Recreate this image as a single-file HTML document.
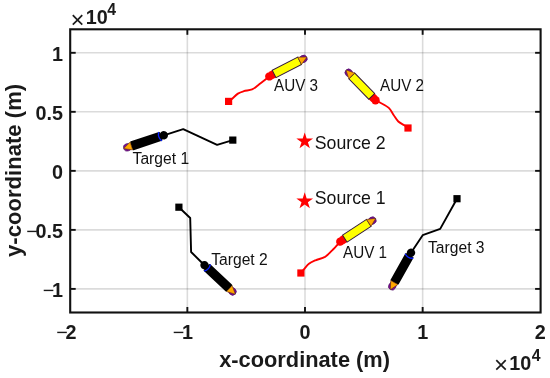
<!DOCTYPE html>
<html lang="en"><head><meta charset="utf-8"><title>AUV and target trajectories</title>
<style>
html,body{margin:0;padding:0;background:#fff;}
body{width:550px;height:378px;overflow:hidden;}
svg{display:block;}
text{font-family:"Liberation Sans", Arial, Helvetica, sans-serif;fill:#1a1a1a;}
.tk{font-weight:bold;font-size:19.8px;}
.ax{font-weight:bold;font-size:21.8px;}
.lb{font-size:16.4px;fill:#111;}
.sr{font-size:18.3px;fill:#111;}
.mn{font-weight:normal;}
.mm{font-weight:normal;letter-spacing:-2.4px;}
</style></head><body>
<svg width="550" height="378" viewBox="0 0 550 378">
<rect width="550" height="378" fill="#ffffff"/>

<g stroke="#000" stroke-opacity="0.14" stroke-width="1.6" fill="none">
<line x1="187.35" y1="29.3" x2="187.35" y2="312.5"/>
<line x1="305.00" y1="29.3" x2="305.00" y2="312.5"/>
<line x1="422.65" y1="29.3" x2="422.65" y2="312.5"/>
<line x1="70.2" y1="288.90" x2="540.6" y2="288.90"/>
<line x1="70.2" y1="229.88" x2="540.6" y2="229.88"/>
<line x1="70.2" y1="170.85" x2="540.6" y2="170.85"/>
<line x1="70.2" y1="111.82" x2="540.6" y2="111.82"/>
<line x1="70.2" y1="52.80" x2="540.6" y2="52.80"/>
</g>
<g fill="none" stroke="#000" stroke-width="1.9" stroke-linejoin="round" stroke-linecap="round">
<path d="M232.8,140.1 L217.1,144.9 L183.2,129.1 L163.8,135.3"/>
<path d="M178.9,207.2 L190.2,218.0 L191.1,252.0 L204.5,265.2"/>
<path d="M457.0,198.7 L440.2,228.9 L422.7,235.2 L411.0,252.7"/>
</g>
<rect x="229.20" y="136.50" width="7.2" height="7.2" fill="#000"/>
<rect x="175.30" y="203.60" width="7.2" height="7.2" fill="#000"/>
<rect x="453.40" y="195.10" width="7.2" height="7.2" fill="#000"/>
<g fill="none" stroke="#ff0000" stroke-width="1.9" stroke-linejoin="round" stroke-linecap="round">
<path d="M228.6,101.4 C229.2,101.0 230.3,100.2 231.9,98.9 C233.5,97.6 235.9,94.9 237.9,93.6 C239.9,92.3 241.4,91.9 243.8,91.2 C246.2,90.5 249.7,90.4 252.1,89.4 C254.5,88.4 255.2,87.4 258.1,85.2 C261.0,83.0 267.4,77.9 269.3,76.4"/>
<path d="M408.0,128.0 C407.4,127.5 405.9,126.4 404.3,125.3 C402.7,124.2 400.1,123.2 398.3,121.5 C396.5,119.8 395.2,117.3 393.6,115.0 C392.0,112.7 391.1,110.0 388.8,107.9 C386.5,105.8 382.1,103.8 379.9,102.5 C377.7,101.2 376.2,100.8 375.5,100.4"/>
<path d="M300.9,273.0 C301.5,272.3 303.2,270.1 304.5,268.6 C305.8,267.1 307.1,265.2 308.9,263.8 C310.7,262.4 312.8,261.5 315.5,260.3 C318.2,259.1 322.2,258.5 325.0,256.9 C327.8,255.2 329.6,252.9 332.2,250.4 C334.8,247.9 338.9,243.1 340.3,241.6"/>
</g>
<rect x="225.00" y="97.80" width="7.2" height="7.2" fill="#ff0000"/>
<rect x="404.40" y="124.40" width="7.2" height="7.2" fill="#ff0000"/>
<rect x="297.30" y="269.40" width="7.2" height="7.2" fill="#ff0000"/>
<g transform="translate(163.80,135.30) rotate(161.70)">
<ellipse cx="38.1" cy="0" rx="4.1" ry="3.7" fill="#7a1090" stroke="#4a0a60" stroke-width="0.6"/>
<rect x="2.6" y="-4.65" width="31.6" height="9.3" rx="1" fill="#000"/>
<path d="M3.7,-4.65 Q6.7,0 3.7,4.65" fill="none" stroke="#0a20ff" stroke-width="1.4"/>
<path d="M34.1,-4.1 L42.3,0 L34.1,4.1 Z" fill="#ffa800" stroke="#5a2a10" stroke-width="0.5"/>
<circle cx="0" cy="0" r="4.2" fill="#000000"/>
</g>
<g transform="translate(204.50,265.20) rotate(43.20)">
<ellipse cx="38.1" cy="0" rx="4.1" ry="3.7" fill="#7a1090" stroke="#4a0a60" stroke-width="0.6"/>
<rect x="2.6" y="-4.65" width="31.6" height="9.3" rx="1" fill="#000"/>
<path d="M3.7,-4.65 Q6.7,0 3.7,4.65" fill="none" stroke="#0a20ff" stroke-width="1.4"/>
<path d="M34.1,-4.1 L42.3,0 L34.1,4.1 Z" fill="#ffa800" stroke="#5a2a10" stroke-width="0.5"/>
<circle cx="0" cy="0" r="4.2" fill="#000000"/>
</g>
<g transform="translate(411.00,252.80) rotate(119.30)">
<ellipse cx="38.1" cy="0" rx="4.1" ry="3.7" fill="#7a1090" stroke="#4a0a60" stroke-width="0.6"/>
<rect x="2.6" y="-4.65" width="31.6" height="9.3" rx="1" fill="#000"/>
<path d="M3.7,-4.65 Q6.7,0 3.7,4.65" fill="none" stroke="#0a20ff" stroke-width="1.4"/>
<path d="M34.1,-4.1 L42.3,0 L34.1,4.1 Z" fill="#ffa800" stroke="#5a2a10" stroke-width="0.5"/>
<circle cx="0" cy="0" r="4.2" fill="#000000"/>
</g>
<g transform="translate(269.30,76.40) rotate(-27.20)">
<ellipse cx="38.1" cy="0" rx="4.1" ry="3.7" fill="#7a1090" stroke="#4a0a60" stroke-width="0.6"/>
<rect x="1.5" y="-4.1" width="5" height="8.2" fill="#ff0000"/>
<rect x="5.4" y="-4.1" width="28.7" height="8.2" fill="#ffff00" stroke="#32183a" stroke-width="0.95"/>
<path d="M34.1,-4.1 L42.3,0 L34.1,4.1 Z" fill="#ffa800" stroke="#5a2a10" stroke-width="0.5"/>
<circle cx="0" cy="0" r="4.2" fill="#ff0000"/>
</g>
<g transform="translate(375.50,100.30) rotate(-134.20)">
<ellipse cx="38.1" cy="0" rx="4.1" ry="3.7" fill="#7a1090" stroke="#4a0a60" stroke-width="0.6"/>
<rect x="1.5" y="-4.1" width="5" height="8.2" fill="#ff0000"/>
<rect x="5.4" y="-4.1" width="28.7" height="8.2" fill="#ffff00" stroke="#32183a" stroke-width="0.95"/>
<path d="M34.1,-4.1 L42.3,0 L34.1,4.1 Z" fill="#ffa800" stroke="#5a2a10" stroke-width="0.5"/>
<circle cx="0" cy="0" r="4.2" fill="#ff0000"/>
</g>
<g transform="translate(340.30,241.60) rotate(-33.30)">
<ellipse cx="38.1" cy="0" rx="4.1" ry="3.7" fill="#7a1090" stroke="#4a0a60" stroke-width="0.6"/>
<rect x="1.5" y="-4.1" width="5" height="8.2" fill="#ff0000"/>
<rect x="5.4" y="-4.1" width="28.7" height="8.2" fill="#ffff00" stroke="#32183a" stroke-width="0.95"/>
<path d="M34.1,-4.1 L42.3,0 L34.1,4.1 Z" fill="#ffa800" stroke="#5a2a10" stroke-width="0.5"/>
<circle cx="0" cy="0" r="4.2" fill="#ff0000"/>
</g>
<polygon points="304.70,132.40 306.68,138.48 313.07,138.48 307.90,142.24 309.87,148.32 304.70,144.56 299.53,148.32 301.50,142.24 296.33,138.48 302.72,138.48" fill="#ff0000"/>
<polygon points="304.70,192.30 306.68,198.38 313.07,198.38 307.90,202.14 309.87,208.22 304.70,204.46 299.53,208.22 301.50,202.14 296.33,198.38 302.72,198.38" fill="#ff0000"/>
<rect x="70.2" y="29.3" width="470.40" height="283.20" fill="none" stroke="#111" stroke-width="2.1"/>
<g stroke="#111" stroke-width="1.9">
<line x1="187.35" y1="312.5" x2="187.35" y2="307.0"/>
<line x1="187.35" y1="29.3" x2="187.35" y2="34.8"/>
<line x1="305.00" y1="312.5" x2="305.00" y2="307.0"/>
<line x1="305.00" y1="29.3" x2="305.00" y2="34.8"/>
<line x1="422.65" y1="312.5" x2="422.65" y2="307.0"/>
<line x1="422.65" y1="29.3" x2="422.65" y2="34.8"/>
<line x1="70.2" y1="288.90" x2="75.7" y2="288.90"/>
<line x1="540.6" y1="288.90" x2="535.1" y2="288.90"/>
<line x1="70.2" y1="229.88" x2="75.7" y2="229.88"/>
<line x1="540.6" y1="229.88" x2="535.1" y2="229.88"/>
<line x1="70.2" y1="170.85" x2="75.7" y2="170.85"/>
<line x1="540.6" y1="170.85" x2="535.1" y2="170.85"/>
<line x1="70.2" y1="111.82" x2="75.7" y2="111.82"/>
<line x1="540.6" y1="111.82" x2="535.1" y2="111.82"/>
<line x1="70.2" y1="52.80" x2="75.7" y2="52.80"/>
<line x1="540.6" y1="52.80" x2="535.1" y2="52.80"/>
</g>
<text class="tk" x="63" y="60.65" text-anchor="end">1</text>
<text class="tk" x="63" y="119.67" text-anchor="end">0.5</text>
<text class="tk" x="63" y="178.70" text-anchor="end">0</text>
<text class="tk" x="63" y="237.73" text-anchor="end"><tspan class="mm">−</tspan>0.5</text>
<text class="tk" x="63" y="296.75" text-anchor="end"><tspan class="mm">−</tspan>1</text>
<text class="tk" x="66.40" y="338.6" text-anchor="middle"><tspan class="mm">−</tspan>2</text>
<text class="tk" x="182.95" y="338.6" text-anchor="middle"><tspan class="mm">−</tspan>1</text>
<text class="tk" x="305.00" y="338.6" text-anchor="middle">0</text>
<text class="tk" x="422.65" y="338.6" text-anchor="middle">1</text>
<text class="tk" x="540.30" y="338.6" text-anchor="middle">2</text>
<text class="tk" y="24.3"><tspan class="mn" x="70.4" dy="3.8" font-size="24px">×</tspan><tspan x="85.7" dy="-3.8">10</tspan><tspan x="107.3" dy="-9.2" font-size="15.8px">4</tspan></text>
<text class="tk" y="370.3"><tspan class="mn" x="494.0" dy="2.9" font-size="24px">×</tspan><tspan x="509.3" dy="-2.9">10</tspan><tspan x="531.7" dy="-9.4" font-size="15.8px">4</tspan></text>
<text class="ax" x="304.6" y="367.3" text-anchor="middle">x-coordinate (m)</text>
<text class="ax" style="font-size:22.1px" transform="translate(20.8,170.4) rotate(-90)" text-anchor="middle">y-coordinate (m)</text>
<text class="lb" transform="translate(132.6,163.8) scale(0.955,1)">Target 1</text>
<text class="lb" transform="translate(211.2,265.4) scale(0.955,1)">Target 2</text>
<text class="lb" transform="translate(428,252.6) scale(0.955,1)">Target 3</text>
<text class="lb" transform="translate(274,90.6) scale(0.93,1)">AUV 3</text>
<text class="lb" transform="translate(380,90.6) scale(0.93,1)">AUV 2</text>
<text class="lb" transform="translate(343,257.9) scale(0.93,1)">AUV 1</text>
<text class="sr" transform="translate(314.8,148.5) scale(0.968,1)">Source 2</text>
<text class="sr" transform="translate(314.8,203.7) scale(0.968,1)">Source 1</text>
</svg></body></html>
